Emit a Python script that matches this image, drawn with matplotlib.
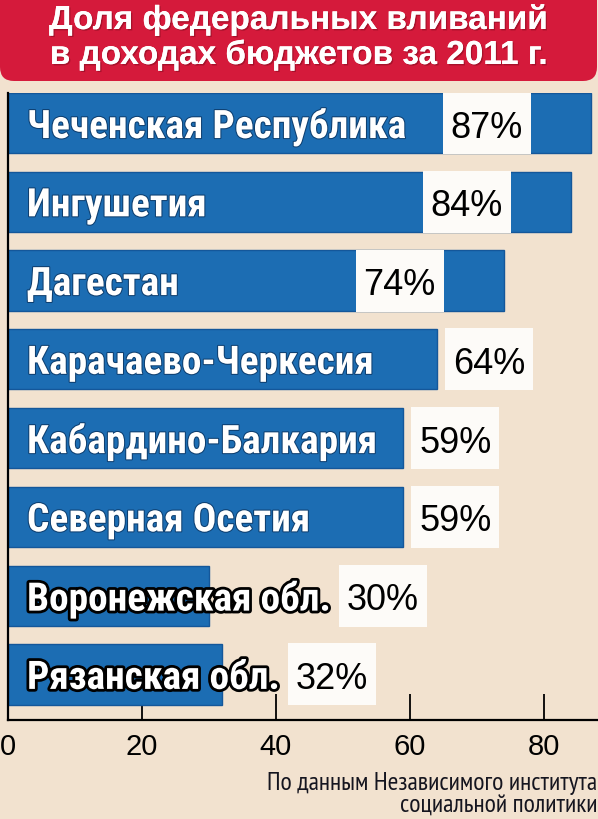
"""
Share of federal transfers in regional budget revenues, 2011.
"""
import matplotlib
matplotlib.use('Agg')
import matplotlib.pyplot as plt
import matplotlib.patheffects as pe
from matplotlib.patches import FancyBboxPatch, Rectangle

regions = [
    'Чеченская Республика', 'Ингушетия', 'Дагестан', 'Карачаево-Черкесия',
    'Кабардино-Балкария', 'Северная Осетия', 'Воронежская обл.',
    'Рязанская обл.'
]
shares = [87, 84, 74, 64, 59, 59, 30, 32]
x_ticks = [0, 20, 40, 60, 80]
title_lines = ['Доля федеральных вливаний', 'в доходах бюджетов за 2011 г.']
source_lines = ['По данным Независимого института', 'социальной политики']

BG = '#f2e2cf'
BLUE = '#1c6db3'
BLUE_EDGE = '#14579a'
RED = '#d51a3b'
BOX = '#fdfbf8'

CONDENSED = ['Roboto Condensed', 'PT Sans Narrow', 'DejaVu Sans']
NARROW = ['PT Sans Narrow', 'Roboto Condensed', 'DejaVu Sans']
REGULAR = ['Liberation Sans', 'DejaVu Sans']

W, H = 598, 820
fig = plt.figure(figsize=(W / 100, H / 100), dpi=100, facecolor=BG)

# background axes in pixel units (origin top-left) for banner and notes
bg = fig.add_axes([0, 0, 1, 1])
bg.set_xlim(0, W)
bg.set_ylim(H, 0)
bg.axis('off')
bg.set_facecolor(BG)

banner = FancyBboxPatch((0, -30), W - 1, 112,
                        boxstyle='round,pad=0,rounding_size=14',
                        facecolor=RED, edgecolor='none', zorder=1)
bg.add_patch(banner)
for line, base in zip(title_lines, [30, 65]):
    bg.text(W / 2, base, line, ha='center', va='baseline', color='white',
            fontsize=24, fontweight='bold', family=REGULAR, zorder=2,
            path_effects=[pe.withSimplePatchShadow(offset=(1, -1),
                                                   shadow_rgbFace='#7a0a1c',
                                                   alpha=0.5),
                          pe.Normal()])

source_texts = []
for line, base in zip(source_lines, [790, 813]):
    source_texts.append(
        bg.text(597, base, line, ha='right', va='baseline', color='#15151f',
                fontsize=18, family=NARROW))

# main bar axes
px_per_unit = 6.7
row_pitch = 78.6
ax = fig.add_axes([8 / W, 99 / H, 590 / W, 627 / H])
ax.set_facecolor('none')
ax.set_xlim(0, 590 / px_per_unit)
ax.set_ylim(7 + 45.5 / row_pitch, -30 / row_pitch)
ax.set_axisbelow(True)

rows = list(range(len(regions)))
bar_h = 0.765
ax.barh(rows, shares, height=bar_h, color=BLUE, edgecolor=BLUE_EDGE,
        linewidth=1, zorder=1)

for side in ['top', 'right']:
    ax.spines[side].set_visible(False)
for side in ['left', 'bottom']:
    ax.spines[side].set_linewidth(1.6)
    ax.spines[side].set_color('black')

ax.set_yticks([])
ax.set_xticks(x_ticks)
ax.set_xticklabels([str(t) for t in x_ticks], family=REGULAR)
ax.tick_params(axis='x', direction='in', length=19, width=1.3, pad=9,
               labelsize=21, colors='black')

# region names inside the bars
label_x = 19 / px_per_unit
name_texts = []
for row, name in zip(rows, regions):
    txt = ax.text(label_x, row, name, ha='left', va='center_baseline',
                  color='white', fontsize=28.3, fontweight='bold',
                  family=CONDENSED, zorder=4)
    name_texts.append(txt)

fig.canvas.draw()
renderer = fig.canvas.get_renderer()

# squeeze the source note towards the width it has in the print
ext = source_texts[0].get_window_extent(renderer)
scale = 330 / ext.width
for txt in source_texts:
    txt.set_fontsize(txt.get_fontsize() * scale)

inv = ax.transData.inverted()
box_w = 88 / px_per_unit
gap = 8 / px_per_unit
for row, share, txt in zip(rows, shares, name_texts):
    ext = txt.get_window_extent(renderer)
    text_end = inv.transform((ext.x1, ext.y0))[0]
    if text_end > share + 1:
        # name runs past the bar: outline it so it stays readable
        txt.set_path_effects([pe.withStroke(linewidth=4, foreground='black')])
    else:
        txt.set_path_effects([pe.withStroke(linewidth=1.5,
                                            foreground='#0e3f70')])
    if share >= 70:
        left = share - 9 - box_w
    else:
        left = max(share, text_end) + gap
    ax.add_patch(Rectangle((left, row - bar_h / 2 - 0.01), box_w,
                           bar_h + 0.02, facecolor=BOX, edgecolor='none',
                           zorder=3))
    ax.text(left + box_w / 2, row, '{}%'.format(share), ha='center',
            va='center_baseline', color='black', fontsize=26, family=REGULAR,
            zorder=5)

fig.savefig('out.png', dpi=100, facecolor=BG)
